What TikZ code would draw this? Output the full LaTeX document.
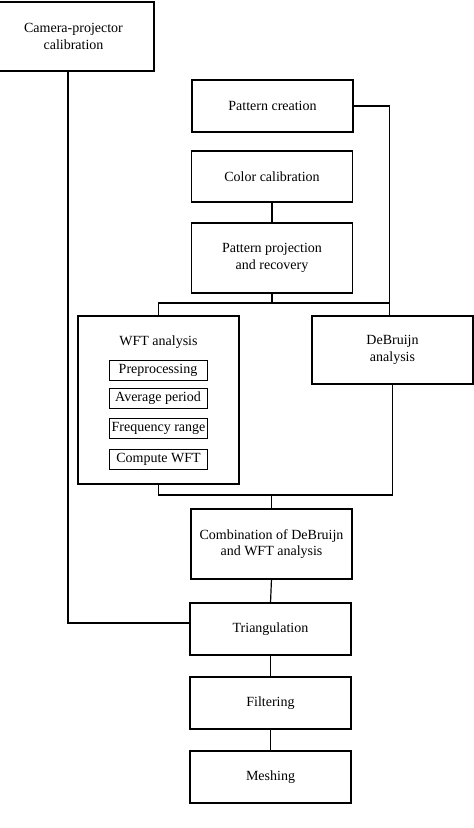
\documentclass[tikz,border=0pt]{standalone}
\usepackage{fontspec}
\setmainfont{Liberation Serif}
\usetikzlibrary{positioning}

\begin{document}
\begin{tikzpicture}[
    x=1pt, y=-1pt,
    %framed,
    every node/.style={inner sep=0pt, outer sep=0pt, font=\fontsize{14}{16.5}\selectfont},
    blokk/.style={rectangle, draw=black, line width=1.3pt, minimum width=161pt, align=center},
    delblokk/.style={rectangle, draw=black, line width=1pt, minimum width=98pt, minimum height=20pt},
    kant/.style={draw=black, line width=1.2pt}
    ]
    \useasboundingbox (0,0) rectangle (474,828);

\node[blokk, minimum width=161pt, minimum height=69pt] (cam) at (73.5,36.5) {Camera-projector\\calibration};
\node[blokk, minimum height=52pt] (pc) at (272.5,106) {Pattern creation};
\node[blokk, minimum height=51pt] (cc) at (272,176.5) {Color calibration};
\node[blokk, minimum height=70pt] (ppr) at (272,258) {Pattern projection\\and recovery};

% WFT branch
\node[blokk, minimum height=168pt] (wft) at (158.5,400) {};
\node (wfttitle) at (158.5,342) {WFT analysis};
\node[delblokk] (pre) at (158,370) {Preprocessing};
\node[delblokk] (avg) at (158,398) {Average period};
\node[delblokk] (frq) at (158.5,428.5) {Frequency range};
\node[delblokk] (wftc) at (158.5,459) {Compute WFT};

% DeBruijn branch
\node[blokk, minimum height=68pt] (deb) at (392.5,350) {DeBruijn\\analysis};

\node[blokk, minimum height=70pt] (comb) at (271.5,544) {Combination of DeBruijn\\and WFT analysis};
\node[blokk, minimum height=52pt] (tri) at (270.5,629) {Triangulation};
\node[blokk, minimum height=52pt] (filt) at (270.5,703) {Filtering};
\node[blokk, minimum height=52pt] (mesh) at (270.5,777) {Meshing};

\coordinate (fork) at ([yshift=-10pt]ppr.south);
\coordinate (join) at ([yshift=14pt]comb.north);

\draw[kant] (cc.south) -- (ppr.north);
\draw[kant] (ppr.south) -- (fork);
\draw[kant] (wft.north) |- (fork) -| ([xshift=-3pt]deb.north);
\draw[kant] (pc.east) -| ([xshift=-3pt]deb.north);
\draw[kant] (wft.south) |- (join) -| (deb.south);
\draw[kant] (join) -- (comb.north);
\draw[kant] (comb.south) -- (tri.north);
\draw[kant] (tri.south) -- (filt.north);
\draw[kant] (filt.south) -- (mesh.north);
\draw[kant] ([xshift=-5.5pt]cam.south) |- ([yshift=6pt]tri.west);
\end{tikzpicture}
\end{document}
